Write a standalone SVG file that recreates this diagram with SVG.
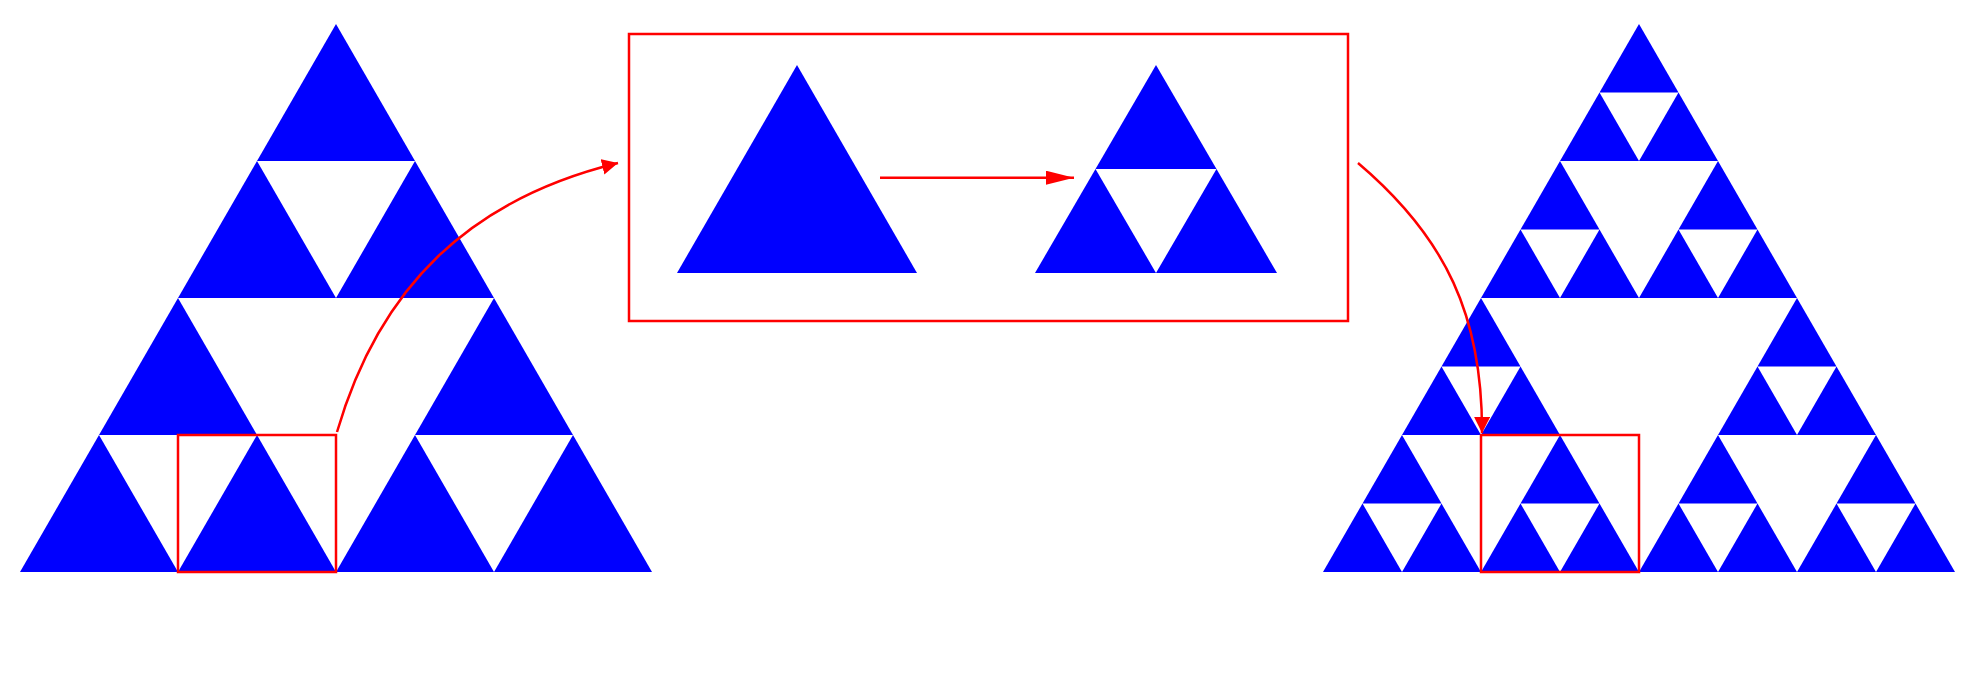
<svg xmlns="http://www.w3.org/2000/svg" xmlns:xlink="http://www.w3.org/1999/xlink" width="1980" height="676" viewBox="0 0 1980 676">
  <style>
    .blue { fill: #0000ff; }
    .hole { fill: #ffffff; }
    .frame { fill: none; stroke: #ff0000; stroke-width: 2.5; }
    .conn { fill: none; stroke: #ff0000; stroke-width: 2.5; }
  </style>
  <defs>
    <path id="t" d="M0,0 H79 L39.5,-68.5 Z"/>
    <g id="sier2" class="blue">
      <use href="#t" x="0" y="0"/>
      <use href="#t" x="79" y="0"/>
      <use href="#t" x="158" y="0"/>
      <use href="#t" x="237" y="0"/>
      <use href="#t" x="39.5" y="-68.5"/>
      <use href="#t" x="197.5" y="-68.5"/>
      <use href="#t" x="79" y="-137"/>
      <use href="#t" x="158" y="-137"/>
      <use href="#t" x="118.5" y="-205.5"/>
    </g>
    <marker id="headA" markerUnits="userSpaceOnUse" markerWidth="16" markerHeight="16" refX="16" refY="8" orient="auto">
      <path d="M0,0 L16,8 L0,16 Z" fill="#ff0000"/>
    </marker>
    <marker id="headB" markerUnits="userSpaceOnUse" markerWidth="28" markerHeight="14" refX="28" refY="7" orient="auto">
      <path d="M0,0 L28,7 L0,14 Z" fill="#ff0000"/>
    </marker>
  </defs>
  <rect x="0" y="0" width="1980" height="676" fill="#ffffff"/>

  <g id="left-sierpinski">
    <use href="#sier2" transform="translate(20,572) scale(2)"/>
  </g>

  <g id="right-sierpinski">
    <use href="#sier2" transform="translate(1323,572)"/>
    <use href="#sier2" transform="translate(1639,572)"/>
    <use href="#sier2" transform="translate(1481,298)"/>
  </g>

  <g id="rule-box">
    <rect class="frame" x="629" y="34" width="719" height="287"/>
    <polygon class="blue" points="677,273 917,273 797,65"/>
    <polygon class="blue" points="1035,273 1277,273 1156,65"/>
    <polygon class="hole" points="1095.5,169 1216.5,169 1156,273"/>
  </g>

  <g id="left-highlight">
    <rect class="frame" x="178" y="435" width="158" height="137"/>
  </g>

  <g id="right-highlight">
    <rect class="frame" x="1481" y="435" width="158" height="137"/>
  </g>

  <g id="connectors">
    <path class="conn" d="M337,432 C379.6,286 470.6,199 618,163" marker-end="url(#headA)"/>
    <path class="conn" d="M880,177.7 L1074,177.7" marker-end="url(#headB)"/>
    <path class="conn" d="M1358,163 C1446.5,238 1482.6,317 1482,433" marker-end="url(#headA)"/>
  </g>
</svg>
